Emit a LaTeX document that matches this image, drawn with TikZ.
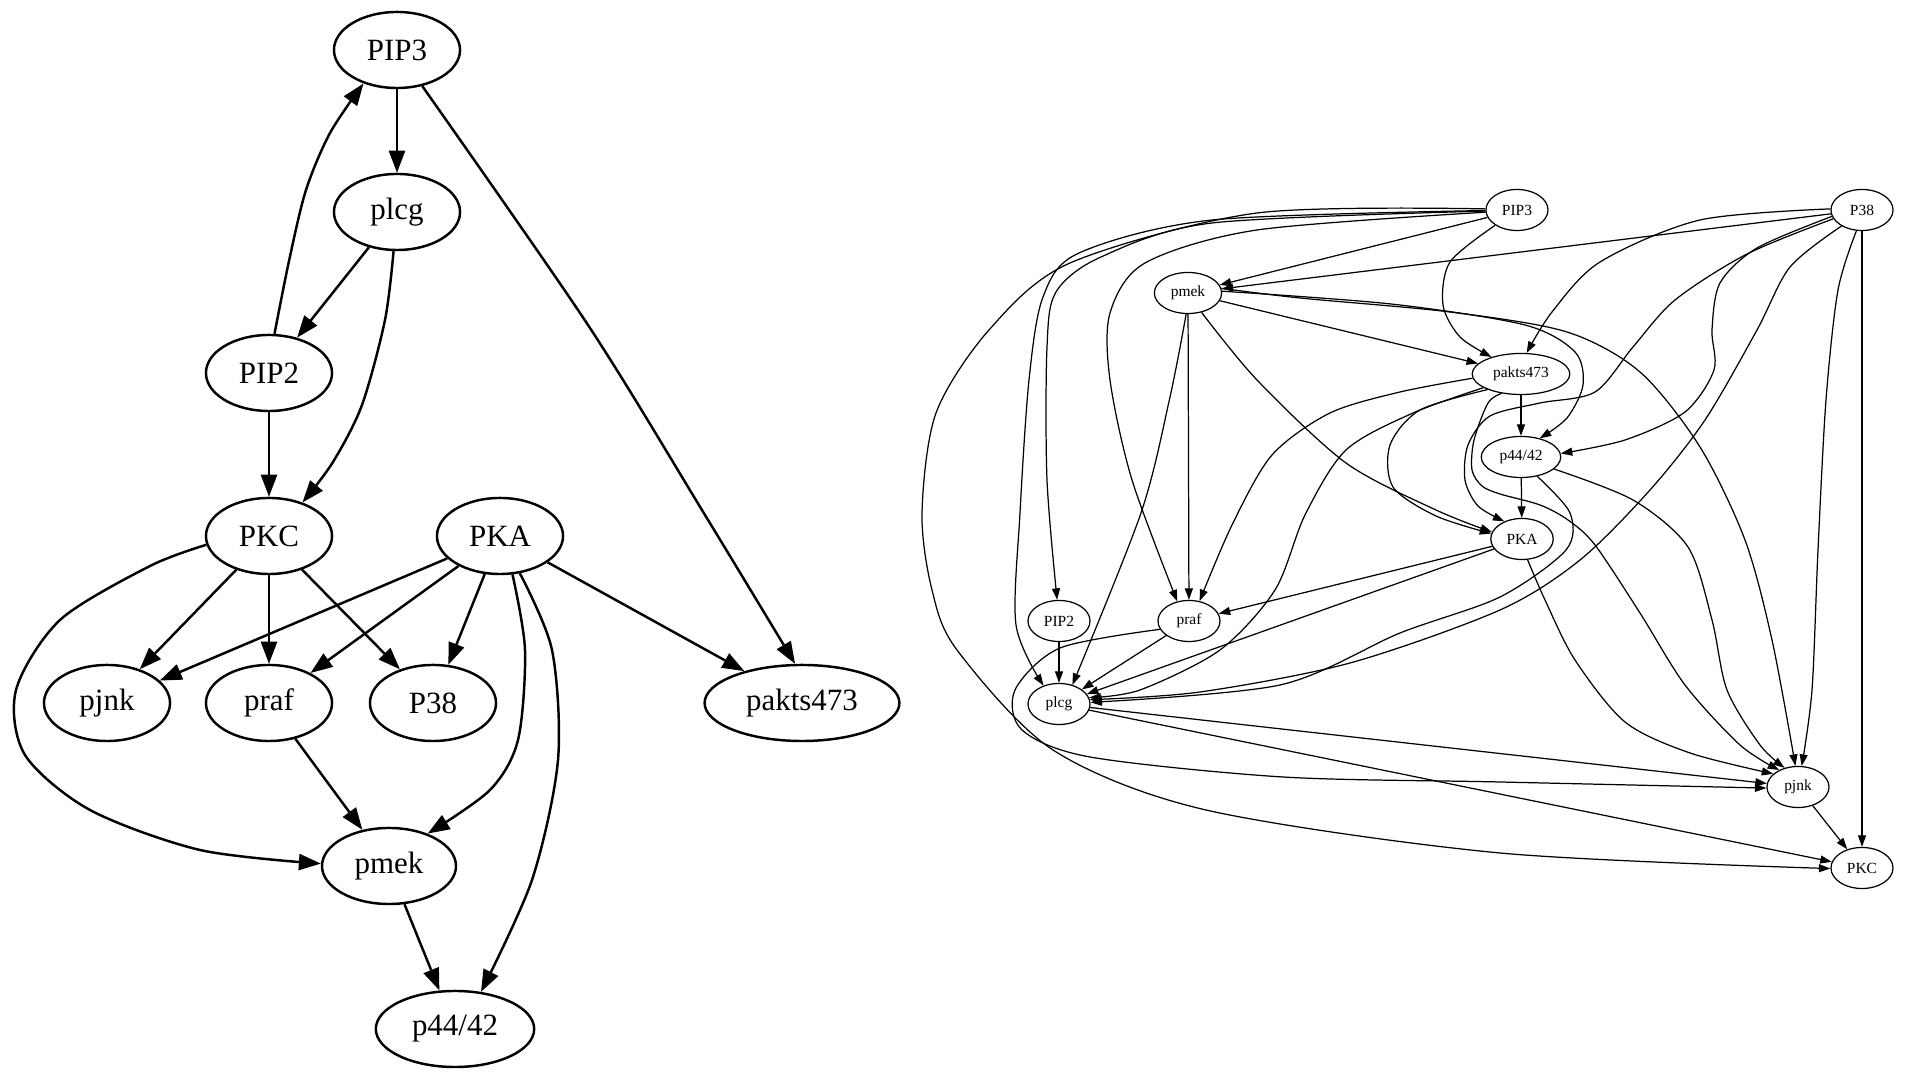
\documentclass[tikz,border=0pt]{standalone}
\usepackage{fontspec}
\setmainfont{Liberation Serif}
\usetikzlibrary{shapes.geometric,arrows.meta}

\begin{document}
\begin{tikzpicture}[x=0.01cm, y=-0.01cm,
            bignode/.style={ellipse, draw, line width=0.7pt, minimum width=1.26cm, minimum height=0.76cm, inner xsep=0.13cm, inner ysep=0pt, font=\fontsize{8.8}{10}\selectfont},
            smallnode/.style={ellipse, draw, line width=0.35pt, minimum width=0.62cm, minimum height=0.41cm, inner xsep=0.066cm, inner ysep=0pt, font=\fontsize{4.4}{5}\selectfont},
            bigarrow/.style={-{Triangle[length=0.22cm, width=0.16cm]}, line width=0.7pt},
            smallarrow/.style={-{Triangle[length=0.115cm, width=0.08cm]}, line width=0.35pt}
        ]
            \useasboundingbox (0,0) rectangle (1920,1080);

            % Left graph
            \node[bignode] (PIP3) at (397,50) {PIP3};
            \node[bignode] (plcg) at (397,212) {plcg};
            \node[bignode] (PIP2) at (269,373) {PIP2};
            \node[bignode] (PKC) at (269,536) {PKC};
            \node[bignode] (PKA) at (500,536) {PKA};
            \node[bignode] (pjnk) at (107,703) {pjnk};
            \node[bignode] (praf) at (269,703) {praf};
            \node[bignode] (P38) at (433,703) {P38};
            \node[bignode] (pakts) at (802,703) {pakts473};
            \node[bignode] (pmek) at (389,866) {pmek};
            \node[bignode] (p44) at (455,1029) {p44/42};

            \draw[bigarrow] plot[smooth] coordinates {(PIP2.82) (289,261) (306,190) (330,133) (PIP3.225)};
            \draw[bigarrow] (PIP3) -- (plcg);
            \draw[bigarrow] plot[smooth] coordinates {(PIP3.305) (588,325) (705,515) (pakts.100)};
            \draw[bigarrow] (plcg) -- (PIP2);
            \draw[bigarrow] plot[smooth] coordinates {(plcg.265) (385,320) (362,405) (333,462) (PKC.45)};
            \draw[bigarrow] (PIP2) -- (PKC);
            \draw[bigarrow] (PKC) -- (pjnk);
            \draw[bigarrow] (PKC) -- (praf);
            \draw[bigarrow] (PKC) -- (P38);
            \draw[bigarrow] plot[smooth] coordinates {(PKC.188) (150,566) (60,620) (16,690) (25,755) (90,810) (200,850) (pmek.178)};
            \draw[bigarrow] (PKA) -- (pjnk);
            \draw[bigarrow] (PKA) -- (praf);
            \draw[bigarrow] (PKA) -- (P38);
            \draw[bigarrow] (PKA) -- (pakts);
            \draw[bigarrow] plot[smooth] coordinates {(PKA.288) (525,650) (518,740) (490,790) (pmek.40)};
            \draw[bigarrow] plot[smooth] coordinates {(PKA.298) (552,650) (558,760) (532,880) (p44.55)};
            \draw[bigarrow] (praf) -- (pmek);
            \draw[bigarrow] (pmek) -- (p44);

            % Right graph
            \node[smallnode] (rPIP3) at (1517,210) {PIP3};
            \node[smallnode] (rP38) at (1862,210) {P38};
            \node[smallnode] (rpmek) at (1188,293) {pmek};
            \node[smallnode] (rpakts) at (1521,374) {pakts473};
            \node[smallnode] (rp44) at (1521,457) {p44/42};
            \node[smallnode] (rPKA) at (1522,539) {PKA};
            \node[smallnode] (rPIP2) at (1059,621) {PIP2};
            \node[smallnode] (rpraf) at (1189,621) {praf};
            \node[smallnode] (rplcg) at (1059,704) {plcg};
            \node[smallnode] (rpjnk) at (1798,787) {pjnk};
            \node[smallnode] (rPKC) at (1862,868) {PKC};

            % from PIP3
            \draw[smallarrow] (rPIP3) -- (rpmek);
            \draw[smallarrow] plot[smooth] coordinates {(rPIP3.215) (1450,262) (1443,305) (1460,337) (rpakts.150)};
            \draw[smallarrow] plot[smooth] coordinates {(rPIP3.182) (1212,223) (1101,257) (1056,292) (1047,347) (1047,480) (rPIP2.95)};
            \draw[smallarrow] plot[smooth] coordinates {(rPIP3.181) (1212,220) (1079,253) (1043,297) (1029,380) (1020,513) (1016,625) (rplcg.130)};
            \draw[smallarrow] plot[smooth] coordinates {(rPIP3.184) (1257,230) (1145,263) (1110,313) (1110,380) (1132,480) (rpraf.121)};
            \draw[smallarrow] plot[smooth] coordinates {(rPIP3.178) (1257,213) (1070,263) (989,330) (936,413) (922,513) (932,590) (957,650) (1053,750) (1206,810) (1500,853) (rPKC.181)};

            % from P38
            \draw[smallarrow] (rP38) -- (rpmek);
            \draw[smallarrow] plot[smooth] coordinates {(rP38.178) (1700,220) (1600,262) (1552,312) (rpakts.75)};
            \draw[smallarrow] plot[smooth] coordinates {(rP38.192) (1757,248) (1720,283) (1712,330) (1714,370) (1685,412) (1625,440) (rp44.5)};
            \draw[smallarrow] plot[smooth] coordinates {(rP38.197) (1747,254) (1675,300) (1633,347) (1595,392) (1540,403) (1490,416) (1468,445) (1465,480) (1478,506) (rPKA.135)};
            \draw[smallarrow] plot[smooth] coordinates {(rP38.218) (1790,267) (1757,330) (1705,420) (1650,490) (1580,560) (1500,610) (1350,663) (1200,692) (rplcg.8)};
            \draw[smallarrow] plot[smooth] coordinates {(rP38.255) (1838,290) (1826,400) (1818,550) (1812,690) (rpjnk.80)};
            \draw[smallarrow] (rP38) -- (rPKC);

            % from pmek
            \draw[smallarrow] (rpmek) -- (rpraf);
            \draw[smallarrow] plot[smooth] coordinates {(rpmek.265) (1170,397) (1141,513) (rplcg.55)};
            \draw[smallarrow] plot[smooth] coordinates {(rpmek.305) (1257,380) (1346,463) (1436,510) (rPKA.167)};
            \draw[smallarrow] (rpmek) -- (rpakts);
            \draw[smallarrow] plot[smooth] coordinates {(rpmek.3) (1391,304) (1525,325) (1575,352) (1583,385) (1567,418) (rp44.45)};
            \draw[smallarrow] plot[smooth] coordinates {(rpmek.8) (1300,298) (1450,312) (1567,332) (1640,372) (1700,447) (1745,540) (1772,640) (rpjnk.97)};

            % from pakts473
            \draw[smallarrow] (rpakts) -- (rp44);
            \draw[smallarrow] plot[smooth] coordinates {(rpakts.185) (1400,392) (1330,413) (1272,455) (1232,525) (rpraf.62)};
            \draw[smallarrow] plot[smooth] coordinates {(rpakts.200) (1413,413) (1346,450) (1305,515) (1275,590) (1220,650) (1140,690) (rplcg.12)};
            \draw[smallarrow] plot[smooth] coordinates {(rpakts.205) (1420,410) (1390,445) (1393,487) (1436,516) (rPKA.170)};
            \draw[smallarrow] plot[smooth] coordinates {(rpakts.225) (1488,403) (1474,440) (1472,470) (1482,486) (1500,494) (1540,505) (1568,520) (1595,545) (1640,613) (1685,685) (1740,745) (rpjnk.138)};

            % from p44/42
            \draw[smallarrow] (rp44) -- (rPKA);
            \draw[smallarrow] plot[smooth] coordinates {(rp44.310) (1570,513) (1566,550) (1500,597) (1400,633) (1280,685) (rplcg.3)};
            \draw[smallarrow] plot[smooth] coordinates {(rp44.340) (1633,500) (1688,547) (1712,620) (1727,690) (1760,745) (rpjnk.125)};

            % from PKA
            \draw[smallarrow] (rPKA) -- (rpraf);
            \draw[smallarrow] (rPKA) -- (rplcg);
            \draw[smallarrow] plot[smooth] coordinates {(rPKA.285) (1545,600) (1575,660) (1625,722) (1690,753) (rpjnk.152)};

            % lower part
            \draw[smallarrow] (rPIP2) -- (rplcg);
            \draw[smallarrow] (rpraf) -- (rplcg);
            \draw[smallarrow] plot[smooth] coordinates {(rpraf.196) (1060,648) (1015,690) (1022,730) (1090,757) (1283,777) (1500,782) (rpjnk.182)};
            \draw[smallarrow] (rplcg) -- (rpjnk);
            \draw[smallarrow] (rplcg) -- (rPKC);
            \draw[smallarrow] (rpjnk) -- (rPKC);
        \end{tikzpicture}
\end{document}
